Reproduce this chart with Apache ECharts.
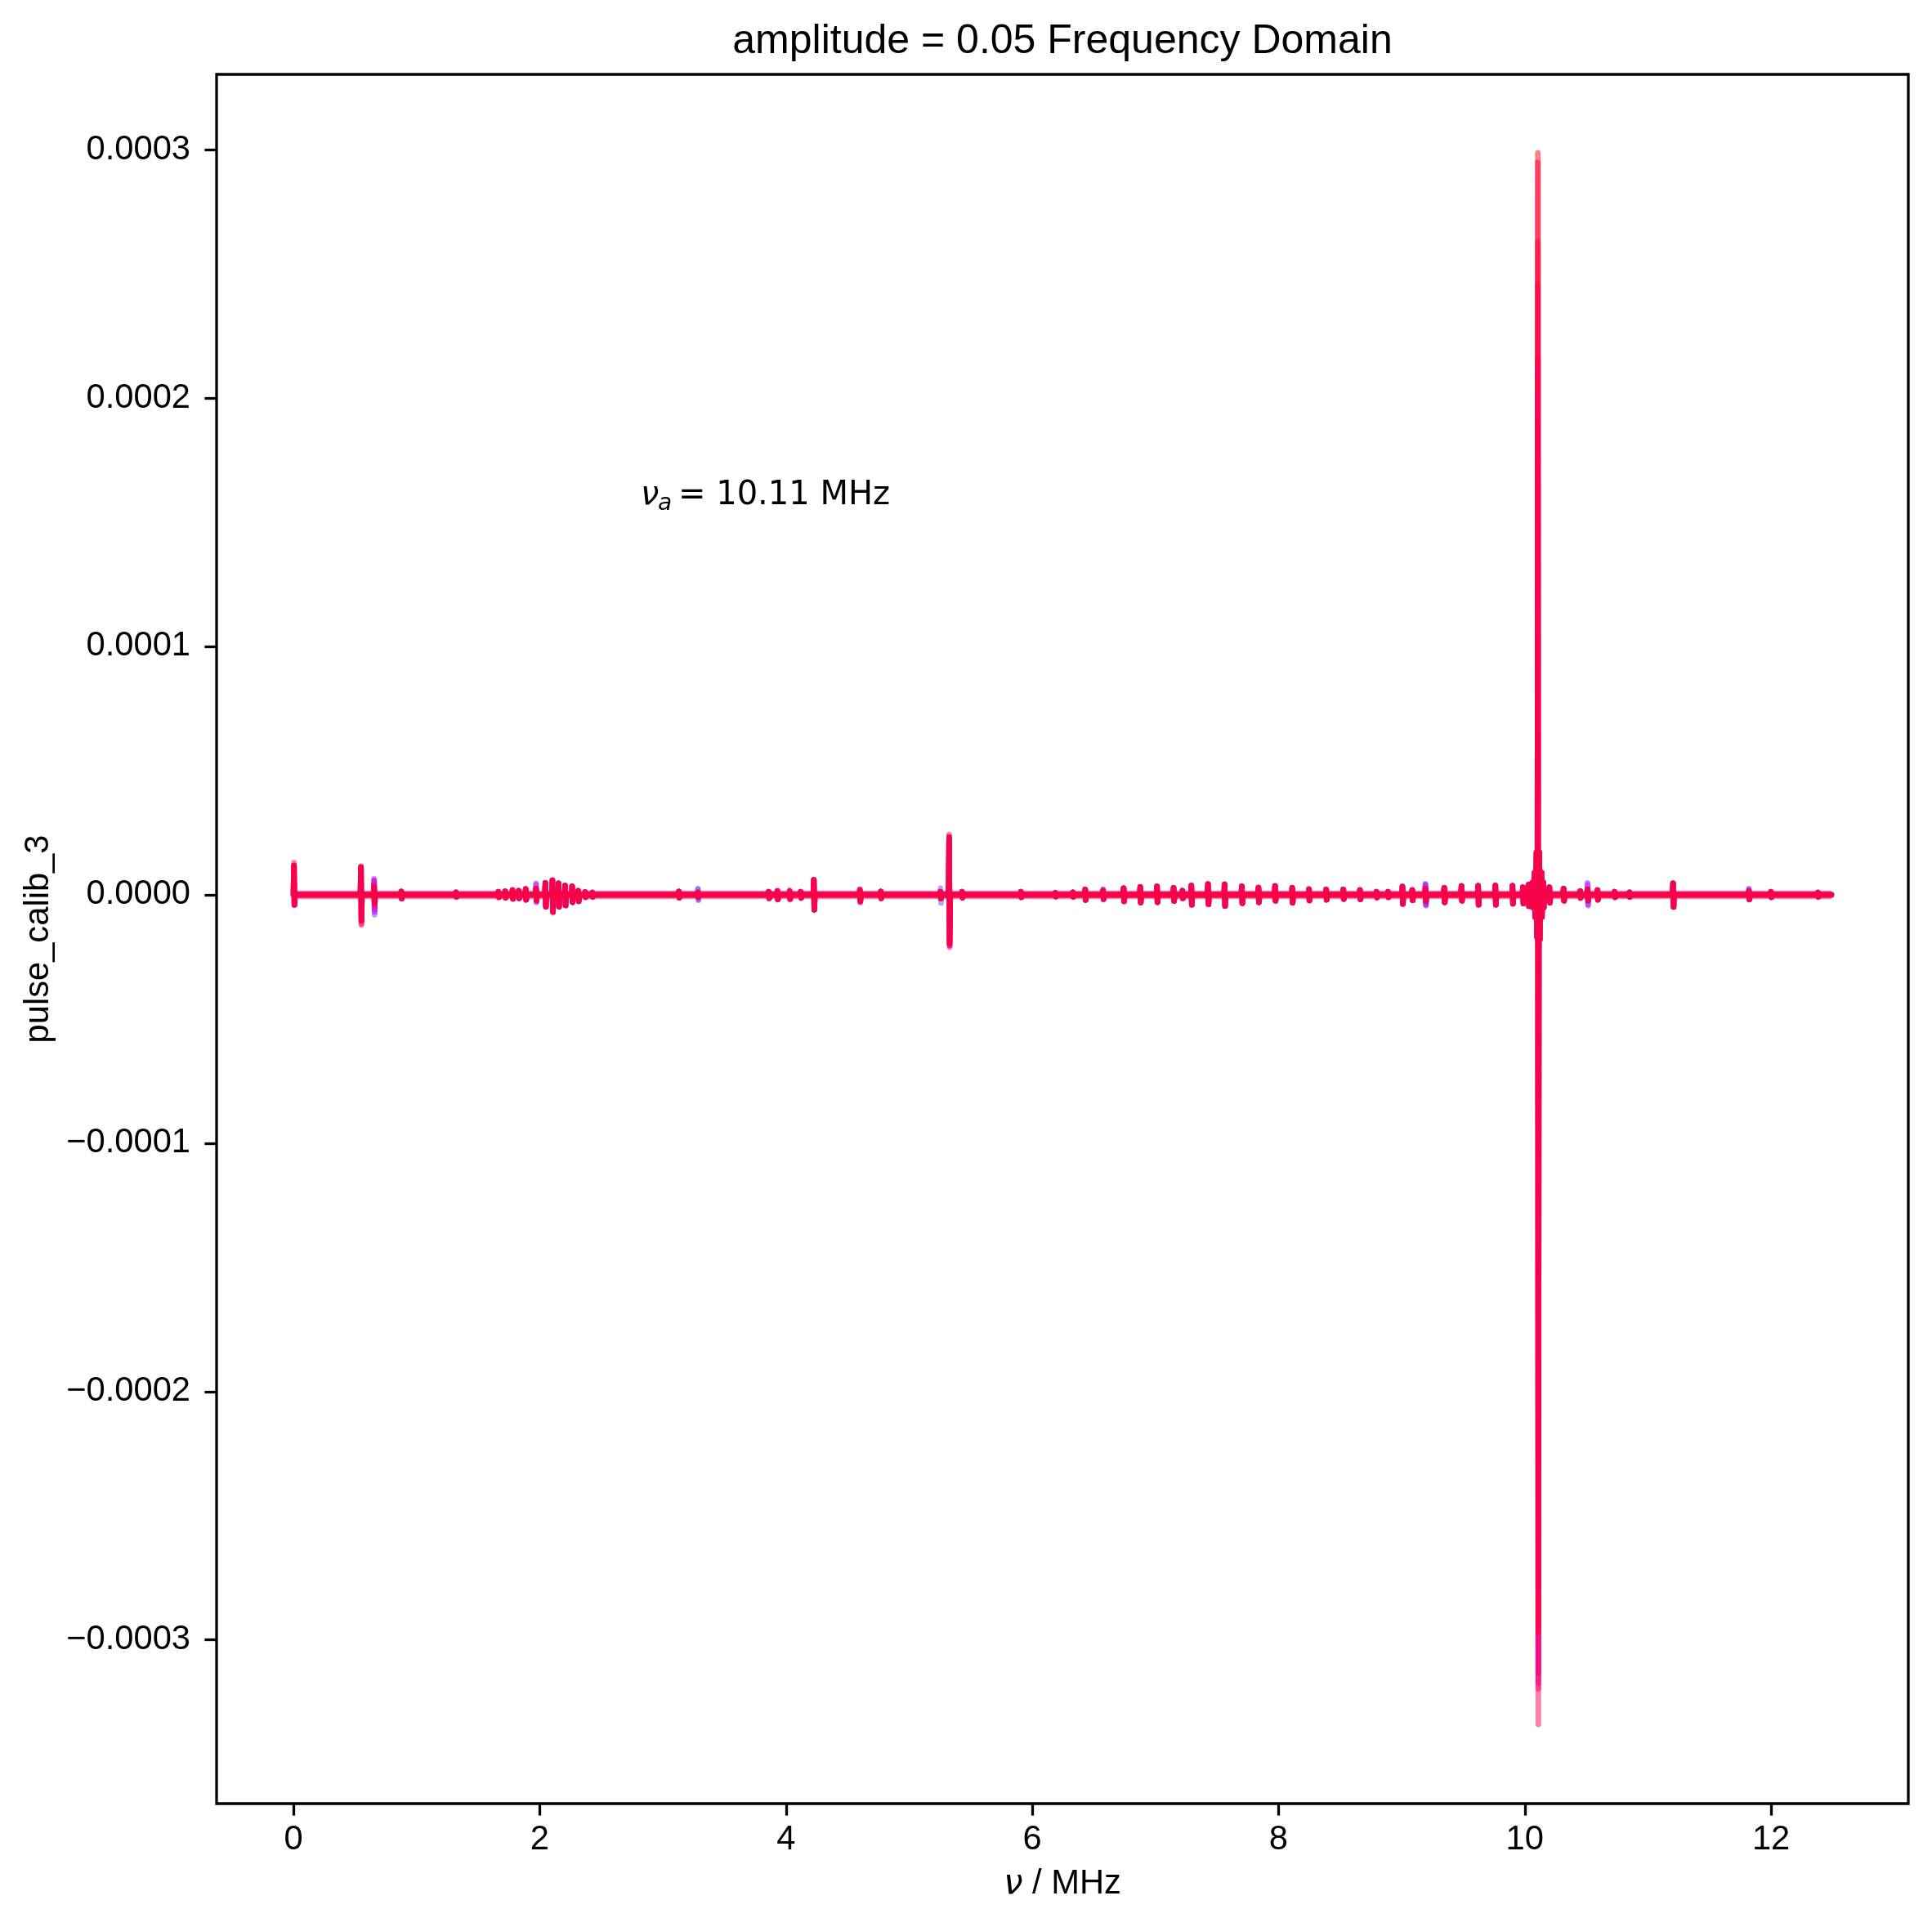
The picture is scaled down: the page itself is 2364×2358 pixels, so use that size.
<!DOCTYPE html>
<html><head><meta charset="utf-8">
<script src="https://cdn.jsdelivr.net/npm/echarts@6/dist/echarts.min.js"></script>
<style>html,body{margin:0;padding:0;background:#fff}#c{width:2364px;height:2358px}</style>
</head><body><div id="c"></div>
<script>
// ---------------- data ----------------
const titleText = 'amplitude = 0.05 Frequency Domain';
const yName = 'pulse_calib_3';
const xTicks = [0, 2, 4, 6, 8, 10, 12];
const yTicks = [-0.0003, -0.0002, -0.0001, 0, 0.0001, 0.0002, 0.0003];
const xRange = [-0.6245, 13.1145];
const yRange = [-0.0003659, 0.0003303];
const freqStart = 0.0, freqEnd = 12.49;
const annotPos = [2.82, 0.000156];
const annotValue = '10.11';

// spikes: [frequency (MHz), positive lobe, negative lobe], lobes in units of 1e-6
// common spectrum (last trace, drawn on top); the other traces list where they differ
const spikesRed = [
  [0.004, 11.8, -4.0], [0.548, 11.0, -10.4], [0.655, 3.0, -3.5], [0.876, 1.3, -1.5],
  [1.320, 1.0, -0.8], [1.665, 1.2, -1.0], [1.720, 1.4, -1.2], [1.779, 1.9, -1.6],
  [1.830, 1.6, -1.4], [1.886, 2.3, -2.0], [1.970, 2.5, -2.2], [2.046, 4.8, -4.8],
  [2.103, 5.8, -6.8], [2.153, 4.6, -4.8], [2.206, 3.7, -4.3], [2.263, 3.4, -3.0],
  [2.313, 1.6, -2.6], [2.370, 1.1, -1.0], [2.427, 0.9, -0.8], [3.130, 1.3, -1.2],
  [3.285, 1.0, -1.0], [3.860, 1.2, -1.4], [3.930, 1.5, -1.8], [4.030, 1.4, -1.6],
  [4.120, 1.2, -1.3], [4.226, 6.0, -6.0], [4.600, 1.8, -2.5], [4.770, 1.3, -1.4],
  [5.255, 1.2, -1.5], [5.325, 23.2, -19.7], [5.430, 1.2, -1.2], [5.908, 1.2, -1.0],
  [6.188, 0.8, -0.7], [6.330, 1.0, -0.8], [6.430, 2.1, -2.1], [6.575, 1.6, -1.6],
  [6.742, 2.6, -2.6], [6.877, 3.1, -3.1], [7.013, 3.4, -3.0], [7.148, 2.8, -2.5],
  [7.220, 1.6, -1.4], [7.292, 3.7, -4.0], [7.427, 4.3, -3.8], [7.562, 4.2, -4.5],
  [7.702, 3.4, -3.4], [7.837, 2.9, -3.0], [7.972, 3.5, -2.4], [8.111, 2.8, -3.2],
  [8.247, 2.2, -2.3], [8.387, 2.1, -2.0], [8.526, 2.1, -1.7], [8.661, 1.9, -1.8],
  [8.796, 1.2, -1.1], [8.890, 1.2, -1.0], [9.006, 3.3, -3.7], [9.086, 1.9, -2.2],
  [9.193, 2.5, -2.6], [9.346, 2.8, -3.0], [9.486, 3.5, -2.4], [9.621, 3.6, -4.0],
  [9.761, 3.7, -4.0], [9.900, 3.6, -3.6], [9.985, 3.0, -3.5], [10.030, 4.0, -4.6],
  [10.060, 4.8, -5.0], [10.080, 9.0, -9.0], [10.095, 17.0, -17.0], [10.106, 298.7, -297.0],
  [10.118, 17.0, -18.0], [10.135, 9.0, -9.0], [10.150, 5.0, -5.2], [10.200, 3.0, -3.2],
  [10.315, 2.5, -2.4], [10.450, 1.5, -1.3], [10.510, 2.2, -2.4], [10.590, 1.9, -2.0],
  [10.730, 1.2, -1.0], [10.850, 1.0, -0.9], [11.204, 4.6, -4.9], [11.820, 1.5, -1.8],
  [12.000, 1.2, -1.0], [12.380, 0.9, -0.8]
];
const spikesBlue = [
  [3.285, 2.2, -2.0], [6.575, 2.0, -1.9], [9.193, 3.6, -3.8], [10.106, 160, -250]
];
const spikesViolet = [
  [0.655, 5.5, -8.1], [1.970, 4.0, -3.1], [3.285, 2.5, -2.2], [5.255, 2.6, -3.3],
  [9.193, 4.4, -4.0], [10.106, 190, -280], [10.510, 4.0, -4.4], [11.820, 2.5, -1.8]
];
const spikesPurple = [
  [0.655, 6.4, -7.0], [1.970, 4.6, -2.8], [4.030, 1.8, -2.0], [6.575, 2.2, -2.0],
  [9.193, 4.2, -4.4], [10.106, 215.9, -313.2], [10.510, 4.8, -4.0], [11.820, 2.2, -2.0]
];
const spikesMagenta = [
  [0.655, 5.8, -6.0], [3.930, 1.7, -2.0], [4.600, 2.2, -3.1], [5.325, 21.5, -21.1],
  [10.106, 245.5, -317.4]
];
const spikesRose = [
  [0.548, 11.2, -11.6], [5.325, 22.5, -20.5], [10.106, 263.0, -319.7]
];
const spikesPink = [
  [0.004, 12.9, -4.2], [0.548, 11.5, -12.1], [0.655, 4.0, -4.5], [2.103, 5.9, -7.2],
  [4.600, 2.2, -3.0], [5.325, 24.3, -20.3], [10.106, 294.9, -334.0]
];

const seriesDefs = [
  { spikes: spikesBlue, color: '#4060ff' },
  { spikes: spikesViolet, color: '#8040ff' },
  { spikes: spikesPurple, color: '#b000ff' },
  { spikes: spikesMagenta, color: '#e000d0' },
  { spikes: spikesRose, color: '#ff0080' },
  { spikes: spikesPink, color: '#ff0055' },
  { spikes: spikesRed, color: '#ff0010' }
];

// ---------------- build ----------------
const DELTA = 0.004;
function mergeSpikes(own, common) {
  const m = new Map();
  common.forEach(s => m.set(s[0].toFixed(3), s));
  own.forEach(s => m.set(s[0].toFixed(3), s));
  return Array.from(m.values()).sort((a, b) => a[0] - b[0]);
}
function buildLine(spikes) {
  const pts = [[freqStart, 0]];
  spikes.forEach(([f, u, d]) => {
    pts.push([Math.max(freqStart, f - DELTA), 0], [f, u * 1e-6], [f + DELTA, d * 1e-6], [f + 2 * DELTA, 0]);
  });
  pts.push([freqEnd, 0]);
  return pts;
}

const SANS = '"Liberation Sans", Arial, Helvetica, sans-serif';
const DEJAVU = '"DejaVu Sans", sans-serif';
const FS = 41.7;
const LW = 6.8;

const series = [{
  type: 'line', data: [[freqStart, 0], [freqEnd, 0]], showSymbol: false, silent: true,
  lineStyle: { width: 10.5, color: '#ff2a5a', opacity: 0.6 }, z: 1
}];
seriesDefs.forEach((s, i) => {
  series.push({
    type: 'line', data: buildLine(mergeSpikes(s.spikes, spikesRed)), showSymbol: false, silent: true,
    lineStyle: { width: LW, color: s.color, opacity: 0.5, cap: 'round', join: 'round' },
    z: 2 + i
  });
});

function fmtY(v) {
  if (Math.abs(v) < 1e-12) return '0.0000';
  return (v < 0 ? '\u2212' : '') + Math.abs(v).toFixed(4);
}

const chart = echarts.init(document.getElementById('c'), null, { renderer: 'canvas' });
chart.setOption({
  animation: false,
  backgroundColor: '#ffffff',
  grid: { left: 265, right: 29, top: 91, bottom: 151, show: true, borderColor: '#000', borderWidth: 3.3, containLabel: false },
  xAxis: {
    type: 'value', min: xRange[0], max: xRange[1],
    axisLine: { show: false, onZero: false },
    splitLine: { show: false },
    axisTick: { show: true, customValues: xTicks, length: 14.6, lineStyle: { color: '#000', width: 3.3 } },
    axisLabel: { customValues: xTicks, fontSize: FS, fontFamily: SANS, color: '#000', margin: 24, formatter: v => String(Math.round(v)) },
    name: '{i|\u03bd}{t| / MHz}', nameLocation: 'middle', nameGap: 78,
    nameTextStyle: { rich: {
      i: { fontSize: FS, fontFamily: DEJAVU, fontStyle: 'italic', color: '#000' },
      t: { fontSize: FS, fontFamily: SANS, color: '#000' }
    } }
  },
  yAxis: {
    type: 'value', min: yRange[0], max: yRange[1],
    axisLine: { show: false, onZero: false },
    splitLine: { show: false },
    axisTick: { show: true, customValues: yTicks, length: 14.6, lineStyle: { color: '#000', width: 3.3 } },
    axisLabel: { customValues: yTicks, fontSize: FS, fontFamily: SANS, color: '#000', margin: 32, formatter: fmtY },
    name: yName, nameLocation: 'middle', nameGap: 196,
    nameTextStyle: { fontSize: FS, fontFamily: SANS, color: '#000' }
  },
  series: series
});

// annotation & title placed relative to the axes
const topLeft = chart.convertToPixel({ gridIndex: 0 }, [xRange[0], yRange[1]]);
const botRight = chart.convertToPixel({ gridIndex: 0 }, [xRange[1], yRange[0]]);
const cx = (topLeft[0] + botRight[0]) / 2;
const a = chart.convertToPixel({ gridIndex: 0 }, annotPos);
const MID = 0.35; // canvas 'middle' sits ~0.35em above the baseline
const AFS = 40;
const subFs = 28;
chart.setOption({
  graphic: [
    { type: 'text', x: cx, y: topLeft[1] - 22 - MID * 50, silent: true,
      style: { text: titleText, fontSize: 50, fontFamily: SANS, fill: '#000', align: 'center', verticalAlign: 'middle' } },
    { type: 'text', x: a[0], y: a[1] - MID * AFS, silent: true,
      style: { text: '\u03bd', fontSize: AFS, fontFamily: DEJAVU, fontStyle: 'italic', fill: '#000', align: 'left', verticalAlign: 'middle' } },
    { type: 'text', x: a[0] + 21, y: a[1] + 6 - MID * subFs, silent: true,
      style: { text: 'a', fontSize: subFs, fontFamily: DEJAVU, fontStyle: 'italic', fill: '#000', align: 'left', verticalAlign: 'middle' } },
    { type: 'text', x: a[0] + 46, y: a[1] - MID * AFS, silent: true,
      style: { text: '= ' + annotValue + ' MHz', fontSize: AFS, fontFamily: DEJAVU, fill: '#000', align: 'left', verticalAlign: 'middle' } }
  ]
});
</script>
</body></html>
